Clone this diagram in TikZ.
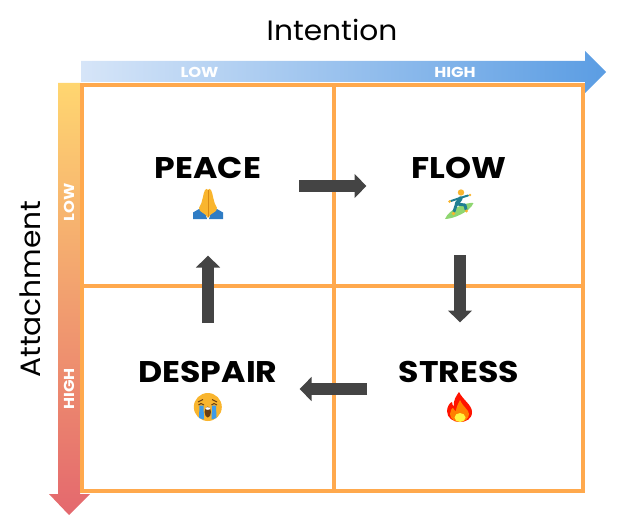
\documentclass[tikz,border=0pt]{standalone}
\usepackage{fontspec}
\setmainfont{Poppins}
\newfontfamily\quadfont[FakeStretch=1.11]{Poppins}
\newfontfamily\titlefont[FakeStretch=1.06]{Poppins}
\newfontfamily\smallfont[FakeStretch=1.14]{Poppins}
\usetikzlibrary{arrows.meta}
\definecolor{gridor}{HTML}{FFA94D}
\definecolor{arrowdk}{HTML}{444444}
\definecolor{handy}{HTML}{F9B52E}
\definecolor{handd}{HTML}{D98A14}
\definecolor{sleeve}{HTML}{2F7CC4}
\definecolor{suit}{HTML}{1F7F92}
\definecolor{board}{HTML}{8FD671}
\definecolor{tear}{HTML}{3E9BE8}
\definecolor{faceline}{HTML}{6B3F12}
\tikzset{
  x=0.75pt,y=-0.75pt,
  gridline/.style={draw=gridor,line width=3pt},
  bigarrow/.style={draw=arrowdk,line width=8.6pt,-{Triangle[width=17.5pt,length=9pt]}},
  quad/.style={font=\fontsize{22.4pt}{24pt}\quadfont\bfseries,text=black,inner sep=0pt},
  scalelabel/.style={font=\fontsize{10.8pt}{12pt}\smallfont\bfseries,text=white,inner sep=0pt},
  axistitle/.style={font=\fontsize{21pt}{24pt}\titlefont,text=black,inner sep=0pt},
}
\begin{document}
\begin{tikzpicture}
\useasboundingbox (0,0) rectangle (623,531);
% gradient arrows
\shade[left color={rgb,255:red,214;green,229;blue,248},right color={rgb,255:red,91;green,157;blue,227}]
  (81,61) -- (585,61) -- (585,51) -- (606,72) -- (585,93) -- (585,82) -- (81,82) -- cycle;
\shade[top color={rgb,255:red,255;green,214;blue,112},bottom color={rgb,255:red,228;green,104;blue,110}]
  (58,83) -- (80,83) -- (80,494) -- (90,494) -- (69,515) -- (49,494) -- (58,494) -- cycle;
% grid
\draw[gridline] (81.5,85) rectangle (583,491);
\draw[gridline] (334,85) -- (334,491);
\draw[gridline] (81.5,286) -- (583,286);
% titles
\node[axistitle] (tint) at (332,30) {Intention};
\node[axistitle,rotate=90] (tatt) at (30,289) {Attachment};
\node[scalelabel] (lowx) at (199.5,72) {LOW};
\node[scalelabel] (highx) at (455,72) {HIGH};
\node[scalelabel,rotate=90] (lowy) at (69,202) {LOW};
\node[scalelabel,rotate=90] (highy) at (69,389) {HIGH};
% quadrants
\node[quad] (peace) at (208,168) {PEACE};
\node[quad] (flow) at (459,168) {FLOW};
\node[quad] (despair) at (208,372) {DESPAIR};
\node[quad] (stress) at (459,372) {STRESS};
% connectors
\coordinate (p1) at (299,186); \coordinate (f1) at (366.5,186);
\coordinate (f2) at (460,255); \coordinate (s1) at (460,322.5);
\coordinate (s2) at (367,389); \coordinate (d1) at (299.5,389);
\coordinate (d2) at (208,323); \coordinate (p2) at (208,255.5);
\draw[bigarrow] (p1) -- (f1);
\draw[bigarrow] (f2) -- (s1);
\draw[bigarrow] (s2) -- (d1);
\draw[bigarrow] (d2) -- (p2);
% pray
\fill[sleeve] (193,219) -- (193,212.5) -- (199,209) -- (205,212) -- (207,219) -- cycle;
\fill[sleeve] (223,219) -- (223,212.5) -- (217,209) -- (211,212) -- (209,219) -- cycle;
\fill[handy] (208,218) .. controls (205,212) and (199,213) .. (199,208) .. controls (203,202) and (203,193) .. (205,190) .. controls (206,188.5) and (207.5,188.5) .. (208,190) .. controls (208.5,188.5) and (210,188.5) .. (211,190) .. controls (213,193) and (213,202) .. (217,208) .. controls (217,213) and (211,212) .. (208,218) -- cycle;
\draw[handd,line width=.35pt] (208,190) -- (208,217);
% surfer
\fill[board] (445,219) .. controls (453,219) and (470,212) .. (473.5,203) .. controls (466,202) and (449,209) .. (445,219) -- cycle;
\fill[handy] (461,192.5) circle (3.2);
\draw[suit,line width=1.5pt,line cap=round] (460,198) -- (451,201);
\draw[suit,line width=1.5pt,line cap=round] (460,198) -- (468,195.5);
\draw[suit,line width=3.2pt,line cap=round] (460.5,198.5) -- (457,203.5);
\draw[suit,line width=2.2pt,line cap=round,line join=round] (456.5,204) -- (465,205) -- (466,209.5);
\draw[suit,line width=2.2pt,line cap=round,line join=round] (456.5,204) -- (454,211.5);
\fill[handy] (449.5,201.5) circle (1.5) (470,195) circle (1.3) (453.5,213.5) circle (1.8) (466.5,211) circle (1.6);
% crying face
\fill[handy] (207.8,407) circle (14);
\draw[faceline,line width=.8pt] (198,402) -- (203,399.5) (217,402) -- (212,399.5);
\draw[faceline,line width=.8pt] (198.5,405) .. controls (200,403) and (202,403) .. (204,405) (211.5,405) .. controls (213,403) and (215,403) .. (217,405);
\fill[tear] (199.5,405.5) -- (203.5,405.5) -- (204,419.5) -- (199,418) -- cycle;
\fill[tear] (212,405.5) -- (216,405.5) -- (216.5,418) -- (211.5,419.5) -- cycle;
\fill[faceline] (207.8,412) ellipse (3.2 and 5.5);
\fill[white] (207.8,408.5) ellipse (2.4 and 1.3);
% flame
\fill[red!85!orange] (459,392) .. controls (463,400) and (472,405) .. (472,412) .. controls (472,419) and (466,422) .. (460,422) .. controls (453,422) and (447,418) .. (447,411) .. controls (447,407) and (450,402) .. (452,402) .. controls (452,405) and (453,406) .. (454,406) .. controls (453,401) and (456,396) .. (459,392) -- cycle;
\fill[orange] (460,400) .. controls (463,407) and (469,410) .. (469,414) .. controls (469,419) and (464,422) .. (460,422) .. controls (455,422) and (450,419) .. (450,414) .. controls (450,411) and (452,408) .. (453,408) .. controls (454,410) and (455,411) .. (456,411) .. controls (456,408) and (458,404) .. (460,400) -- cycle;
\fill[yellow!75!white] (460,417.5) ellipse (5.5 and 4.5);
\end{tikzpicture}
\end{document}
